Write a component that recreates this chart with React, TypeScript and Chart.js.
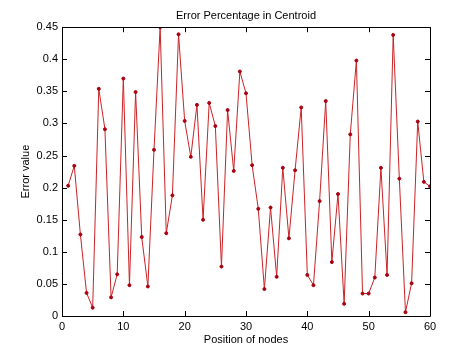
import React, { useEffect, useRef } from "react";
import { Chart, registerables } from "chart.js";

Chart.register(...registerables);

const nodePositions: number[] = Array.from({ length: 60 }, (_, i) => i + 1);
const errorValues: number[] = [
  0.203, 0.234, 0.127, 0.036, 0.013, 0.354, 0.291, 0.029, 0.065, 0.370,
  0.048, 0.349, 0.123, 0.046, 0.259, 0.450, 0.129, 0.188, 0.439, 0.304,
  0.248, 0.329, 0.150, 0.332, 0.296, 0.077, 0.321, 0.226, 0.381, 0.347,
  0.235, 0.167, 0.042, 0.169, 0.061, 0.231, 0.121, 0.227, 0.325, 0.064,
  0.048, 0.179, 0.335, 0.084, 0.190, 0.019, 0.283, 0.398, 0.035, 0.035,
  0.060, 0.231, 0.064, 0.438, 0.214, 0.006, 0.051, 0.303, 0.209, 0.202,
];
const xTicks: number[] = [0, 10, 20, 30, 40, 50, 60];
const yTicks: number[] = [0, 0.05, 0.1, 0.15, 0.2, 0.25, 0.3, 0.35, 0.4, 0.45];

const chartTitle = "Error Percentage in Centroid";
const xLabel = "Position of nodes";
const yLabel = "Error value";

const FONT = "Arial, 'Liberation Sans', sans-serif";

const boxPlugin = {
  id: "matlabBox",
  afterDatasetsDraw(chart: any) {
    const { ctx, chartArea } = chart;
    const { left, right, top, bottom } = chartArea;
    const xs = chart.scales.x;
    const ys = chart.scales.y;
    const len = 5;
    ctx.save();
    ctx.strokeStyle = "#000";
    ctx.lineWidth = 1;
    ctx.beginPath();
    ctx.rect(Math.round(left) + 0.5, Math.round(top) + 0.5, Math.round(right - left), Math.round(bottom - top));
    xTicks.forEach((v) => {
      const px = Math.round(xs.getPixelForValue(v)) + 0.5;
      ctx.moveTo(px, bottom);
      ctx.lineTo(px, bottom - len);
      ctx.moveTo(px, top);
      ctx.lineTo(px, top + len);
    });
    yTicks.forEach((v) => {
      const py = Math.round(ys.getPixelForValue(v)) + 0.5;
      ctx.moveTo(left, py);
      ctx.lineTo(left + len, py);
      ctx.moveTo(right, py);
      ctx.lineTo(right - len, py);
    });
    ctx.stroke();
    ctx.restore();
  },
};

export default function App() {
  const ref = useRef<HTMLCanvasElement | null>(null);
  useEffect(() => {
    if (!ref.current) return;
    const chart = new Chart(ref.current, {
      type: "line",
      data: {
        datasets: [
          {
            data: nodePositions.map((x, i) => ({ x, y: errorValues[i] })),
            borderColor: "#cc2226",
            borderWidth: 1,
            pointRadius: 1.5,
            pointBackgroundColor: "#a80010",
            pointBorderColor: "#a80010",
            pointStyle: "circle",
            tension: 0,
            fill: false,
          },
        ],
      },
      options: {
        responsive: false,
        animation: false,
        layout: { padding: { left: 0, right: 44, top: 0, bottom: 0 } },
        plugins: {
          legend: { display: false },
          tooltip: { enabled: false },
          title: {
            display: true,
            text: chartTitle,
            fullSize: false,
            color: "#000",
            font: { family: FONT, size: 11, weight: "normal" },
            padding: { top: 9, bottom: 5 },
          },
        },
        scales: {
          x: {
            type: "linear",
            min: 0,
            max: 60,
            afterFit: (s: any) => {
              s.height = 39;
            },
            afterBuildTicks: (s: any) => {
              s.ticks = xTicks.map((v) => ({ value: v }));
            },
            grid: { display: false, drawTicks: false },
            border: { display: false },
            ticks: {
              color: "#000",
              font: { family: FONT, size: 11 },
              padding: 4,
              maxRotation: 0,
              callback: (v: any) => String(v),
            },
            title: {
              display: true,
              text: xLabel,
              color: "#000",
              font: { family: FONT, size: 11 },
              padding: { top: 0, bottom: 8 },
            },
          },
          y: {
            type: "linear",
            min: 0,
            max: 0.45,
            afterFit: (s: any) => {
              s.width = 62;
            },
            afterBuildTicks: (s: any) => {
              s.ticks = yTicks.map((v) => ({ value: v }));
            },
            grid: { display: false, drawTicks: false },
            border: { display: false },
            ticks: {
              color: "#000",
              font: { family: FONT, size: 11 },
              padding: 4,
              callback: (v: any) => String(Math.round(v * 100) / 100),
            },
            title: {
              display: true,
              text: yLabel,
              color: "#000",
              font: { family: FONT, size: 11 },
              padding: { top: 19, bottom: 0 },
            },
          },
        },
      },
      plugins: [boxPlugin],
    });
    return () => chart.destroy();
  }, []);
  return (
    <div style={{ position: "fixed", left: 0, top: 0, width: 474, height: 355, background: "#fff" }}>
      <canvas ref={ref} width={474} height={355} style={{ width: 474, height: 355, display: "block" }} />
    </div>
  );
}
